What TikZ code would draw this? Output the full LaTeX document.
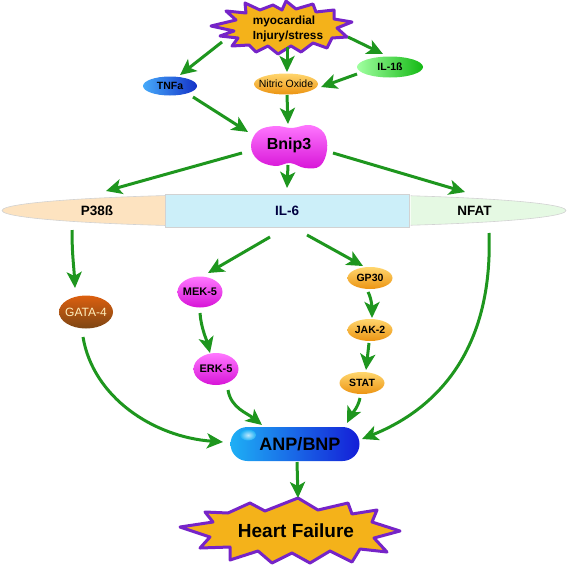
\documentclass[tikz,border=0pt]{standalone}
\usepackage{fontspec}
\setmainfont{Liberation Sans}
\usetikzlibrary{arrows.meta,shapes.geometric,calc}
\definecolor{arrgreen}{RGB}{30,150,30}
\definecolor{gold}{RGB}{244,178,26}
\definecolor{purp}{RGB}{118,36,200}
\definecolor{peach}{RGB}{253,227,192}
\definecolor{lcyan}{RGB}{204,239,249}
\definecolor{lgreen}{RGB}{229,249,227}
\definecolor{bluelt}{RGB}{70,170,250}
\definecolor{bluedk}{RGB}{20,50,200}
\definecolor{orlt}{RGB}{255,214,110}
\definecolor{ordk}{RGB}{236,148,18}
\definecolor{grlt}{RGB}{160,255,160}
\definecolor{grdk}{RGB}{20,185,20}
\definecolor{mglt}{RGB}{255,120,255}
\definecolor{mgdk}{RGB}{215,20,215}
\definecolor{brlt}{RGB}{220,95,15}
\definecolor{brdk}{RGB}{125,70,20}
\definecolor{gatatext}{RGB}{255,240,190}
\definecolor{anplt}{RGB}{30,175,245}
\definecolor{anpdk}{RGB}{20,30,215}
\newcommand\zbox[1]{\makebox[0pt]{#1}}
\begin{document}
\begin{tikzpicture}[x=1pt,y=-1pt,
  arr/.style={draw=arrgreen, line width=3pt, -{Stealth[length=16pt,width=15pt,inset=4pt]}},
  burst/.style={fill=gold, draw=purp, line width=3pt, line join=round},
  mol/.style={ellipse, inner sep=0pt, font=\bfseries\fontsize{10.5}{12}\selectfont},
  bluemol/.style={mol, left color=bluelt, right color=bluedk, minimum width=54pt, minimum height=19pt},
  orangemol/.style={mol, top color=orlt, bottom color=ordk, minimum width=45pt, minimum height=22pt},
  greenmol/.style={mol, left color=grlt, right color=grdk, minimum width=66pt, minimum height=21pt},
  pinkmol/.style={mol, top color=mglt, bottom color=mgdk, minimum width=45pt, minimum height=31pt, font=\bfseries\fontsize{11}{12}\selectfont},
  brownmol/.style={mol, top color=brlt, bottom color=brdk, text=gatatext, font=\fontsize{12}{13}\selectfont, minimum width=54pt, minimum height=33pt},
  band/.style={inner sep=0pt, minimum height=33pt, font=\bfseries\fontsize{13.5}{15}\selectfont},
  txt/.style={inner sep=0pt, font=\bfseries}
]
\useasboundingbox (0,0) rectangle (567,565);

% top burst
\draw[burst] (211,26) -- (236,20) -- (226,11) -- (246,13) -- (245,3) -- (260,10) -- (273,5) -- (282,10) -- (286,1) -- (296,9) -- (313,4) -- (316,12) -- (334,10) -- (334,19) -- (352,22) -- (337,28) -- (347,37) -- (332,38) -- (327,48) -- (313,43) -- (301,52) -- (291,46) -- (278,54) -- (268,46) -- (256,52) -- (249,45) -- (232,46) -- (238,38) -- (220,36) -- (234,31) -- cycle;
\node[txt, align=left, font=\bfseries\fontsize{11.8}{15}\selectfont] (inj) at (288,29) {myocardial\\Injury/stress};

\node[bluemol] (tnf) at (170,86) {\zbox{TNFa}};
\node[orangemol, minimum width=64pt, minimum height=21pt, font=\fontsize{10.5}{12}\selectfont] (no) at (286,84) {\zbox{Nitric Oxide}};
\node[greenmol] (il1) at (390,67) {\zbox{IL-1ß}};

% Bnip3 blob
\shade[top color=mglt, bottom color=mgdk]
  plot[smooth cycle, tension=0.65] coordinates {(251,146) (258,131) (275,126) (292,128) (310,125) (324,133) (327,150) (320,166) (305,168) (290,163) (275,166) (258,160)};
\node[txt, font=\bfseries\fontsize{16}{18}\selectfont, minimum width=76pt, minimum height=42pt] (bnip) at (289,145) {Bnip3};

% band
\begin{scope}
\clip (0,180) rectangle (165.5,240);
\fill[peach, draw=gray!35, line width=0.6pt] (284,210.5) ellipse [x radius=282, y radius=16.5];
\end{scope}
\begin{scope}
\clip (410.5,180) rectangle (567,240);
\fill[lgreen, draw=gray!35, line width=0.6pt] (284,210.5) ellipse [x radius=282, y radius=16.5];
\end{scope}
\fill[lcyan, draw=gray!35, line width=0.6pt] (165.5,194) rectangle (409.5,227);
\node[band] (p38) at (97,210.5) {P38ß};
\node[band, text=blue!25!black] (il6) at (287,210.5) {IL-6};
\node[band] (nfat) at (474.5,210.5) {NFAT};

\node[brownmol] (gata) at (86,312) {\zbox{GATA-4}};
\node[pinkmol] (mek) at (200,292) {\zbox{MEK-5}};
\node[pinkmol, minimum height=32pt] (erk) at (216,369) {\zbox{ERK-5}};
\node[orangemol] (gp) at (370,278) {\zbox{GP30}};
\node[orangemol] (jak) at (370,330) {\zbox{JAK-2}};
\node[orangemol] (stat) at (362,383) {\zbox{STAT}};

\node[rounded corners=17pt, left color=anplt, right color=anpdk, minimum width=129pt, minimum height=34pt, inner sep=0pt] (anpbox) at (295,444) {};
\shade[inner color=white!70!anplt, outer color=anplt] (248,435) ellipse [x radius=8, y radius=5.5];
\node[txt, font=\bfseries\fontsize{18}{20}\selectfont] (anp) at (300,444) {ANP/BNP};

% heart failure burst
\draw[burst] (180,527) -- (213,522) -- (205,512) -- (228,513) -- (250,503) -- (265,511) -- (298,498) -- (318,510) -- (348,503) -- (352,514) -- (377,510) -- (372,522) -- (400,531) -- (374,538) -- (387,552) -- (360,549) -- (352,562) -- (330,551) -- (310,563) -- (292,553) -- (272,563) -- (258,551) -- (230,560) -- (230,547) -- (200,548) -- (210,537) -- cycle;
\node[txt, font=\bfseries\fontsize{19}{21}\selectfont] (hf) at (296,531) {Heart Failure};

% arrows
\draw[arr] ($(inj.center)+(-66,13)$) -- ($(tnf.center)+(10,-11)$);
\draw[arr] ($(inj.center)+(-1,18)$) -- ($(no.center)+(1,-12)$);
\draw[arr] ($(inj.center)+(60,8)$) -- ($(il1.center)+(-7,-13)$);
\draw[arr] ($(il1.center)+(-33,7)$) -- ($(no.center)+(35,3)$);
\draw[arr] ($(tnf.center)+(23,11)$) -- ($(bnip.center)+(-41,-13)$);
\draw[arr] ($(no.center)+(1,11)$) -- ($(bnip.center)+(-1,-21)$);
\draw[arr] ($(bnip.center)+(-47,8)$) -- ($(p38.center)+(9,-19.5)$);
\draw[arr] ($(bnip.center)+(-1,20)$) -- ($(il6.center)+(0,-22.5)$);
\draw[arr] ($(bnip.center)+(44,8)$) -- ($(nfat.center)+(-9.5,-18.5)$);
\draw[arr] ($(p38.center)+(-25,19.5)$) .. controls +(0,25) and +(-1,-20) .. ($(gata.center)+(-11,-24)$);
\draw[arr] ($(il6.center)+(-17,26.5)$) -- ($(mek.center)+(8,-19)$);
\draw[arr] ($(il6.center)+(20,24.5)$) -- ($(gp.center)+(-7,-12)$);
\draw[arr] ($(mek.center)+(0,21)$) .. controls +(1,15) and +(-3,-12) .. ($(erk.center)+(-6,-16)$);
\draw[arr] ($(gp.center)+(-2,14)$) .. controls +(4,7) and +(0,-8) .. ($(jak.center)+(2,-12)$);
\draw[arr] ($(jak.center)+(-1,13)$) -- ($(stat.center)+(4,-13)$);
\draw[arr] ($(stat.center)+(-2,15)$) .. controls +(-2,10) and +(4,-8) .. ($(anpbox.center)+(52,-21)$);
\draw[arr] ($(erk.center)+(12,21)$) .. controls +(3,18) and +(-15,-12) .. ($(anpbox.center)+(-33,-19)$);
\draw[arr] ($(gata.center)+(-3,25)$) .. controls +(10,60) and +(-70,-5) .. ($(anpbox.center)+(-72,-2)$);
\draw[arr] ($(nfat.center)+(14.5,22.5)$) .. controls +(5,140) and +(50,-20) .. ($(anpbox.center)+(67,-5)$);
\draw[arr] ($(anpbox.center)+(2,18)$) -- ($(hf.center)+(2,-33)$);
\end{tikzpicture}
\end{document}
